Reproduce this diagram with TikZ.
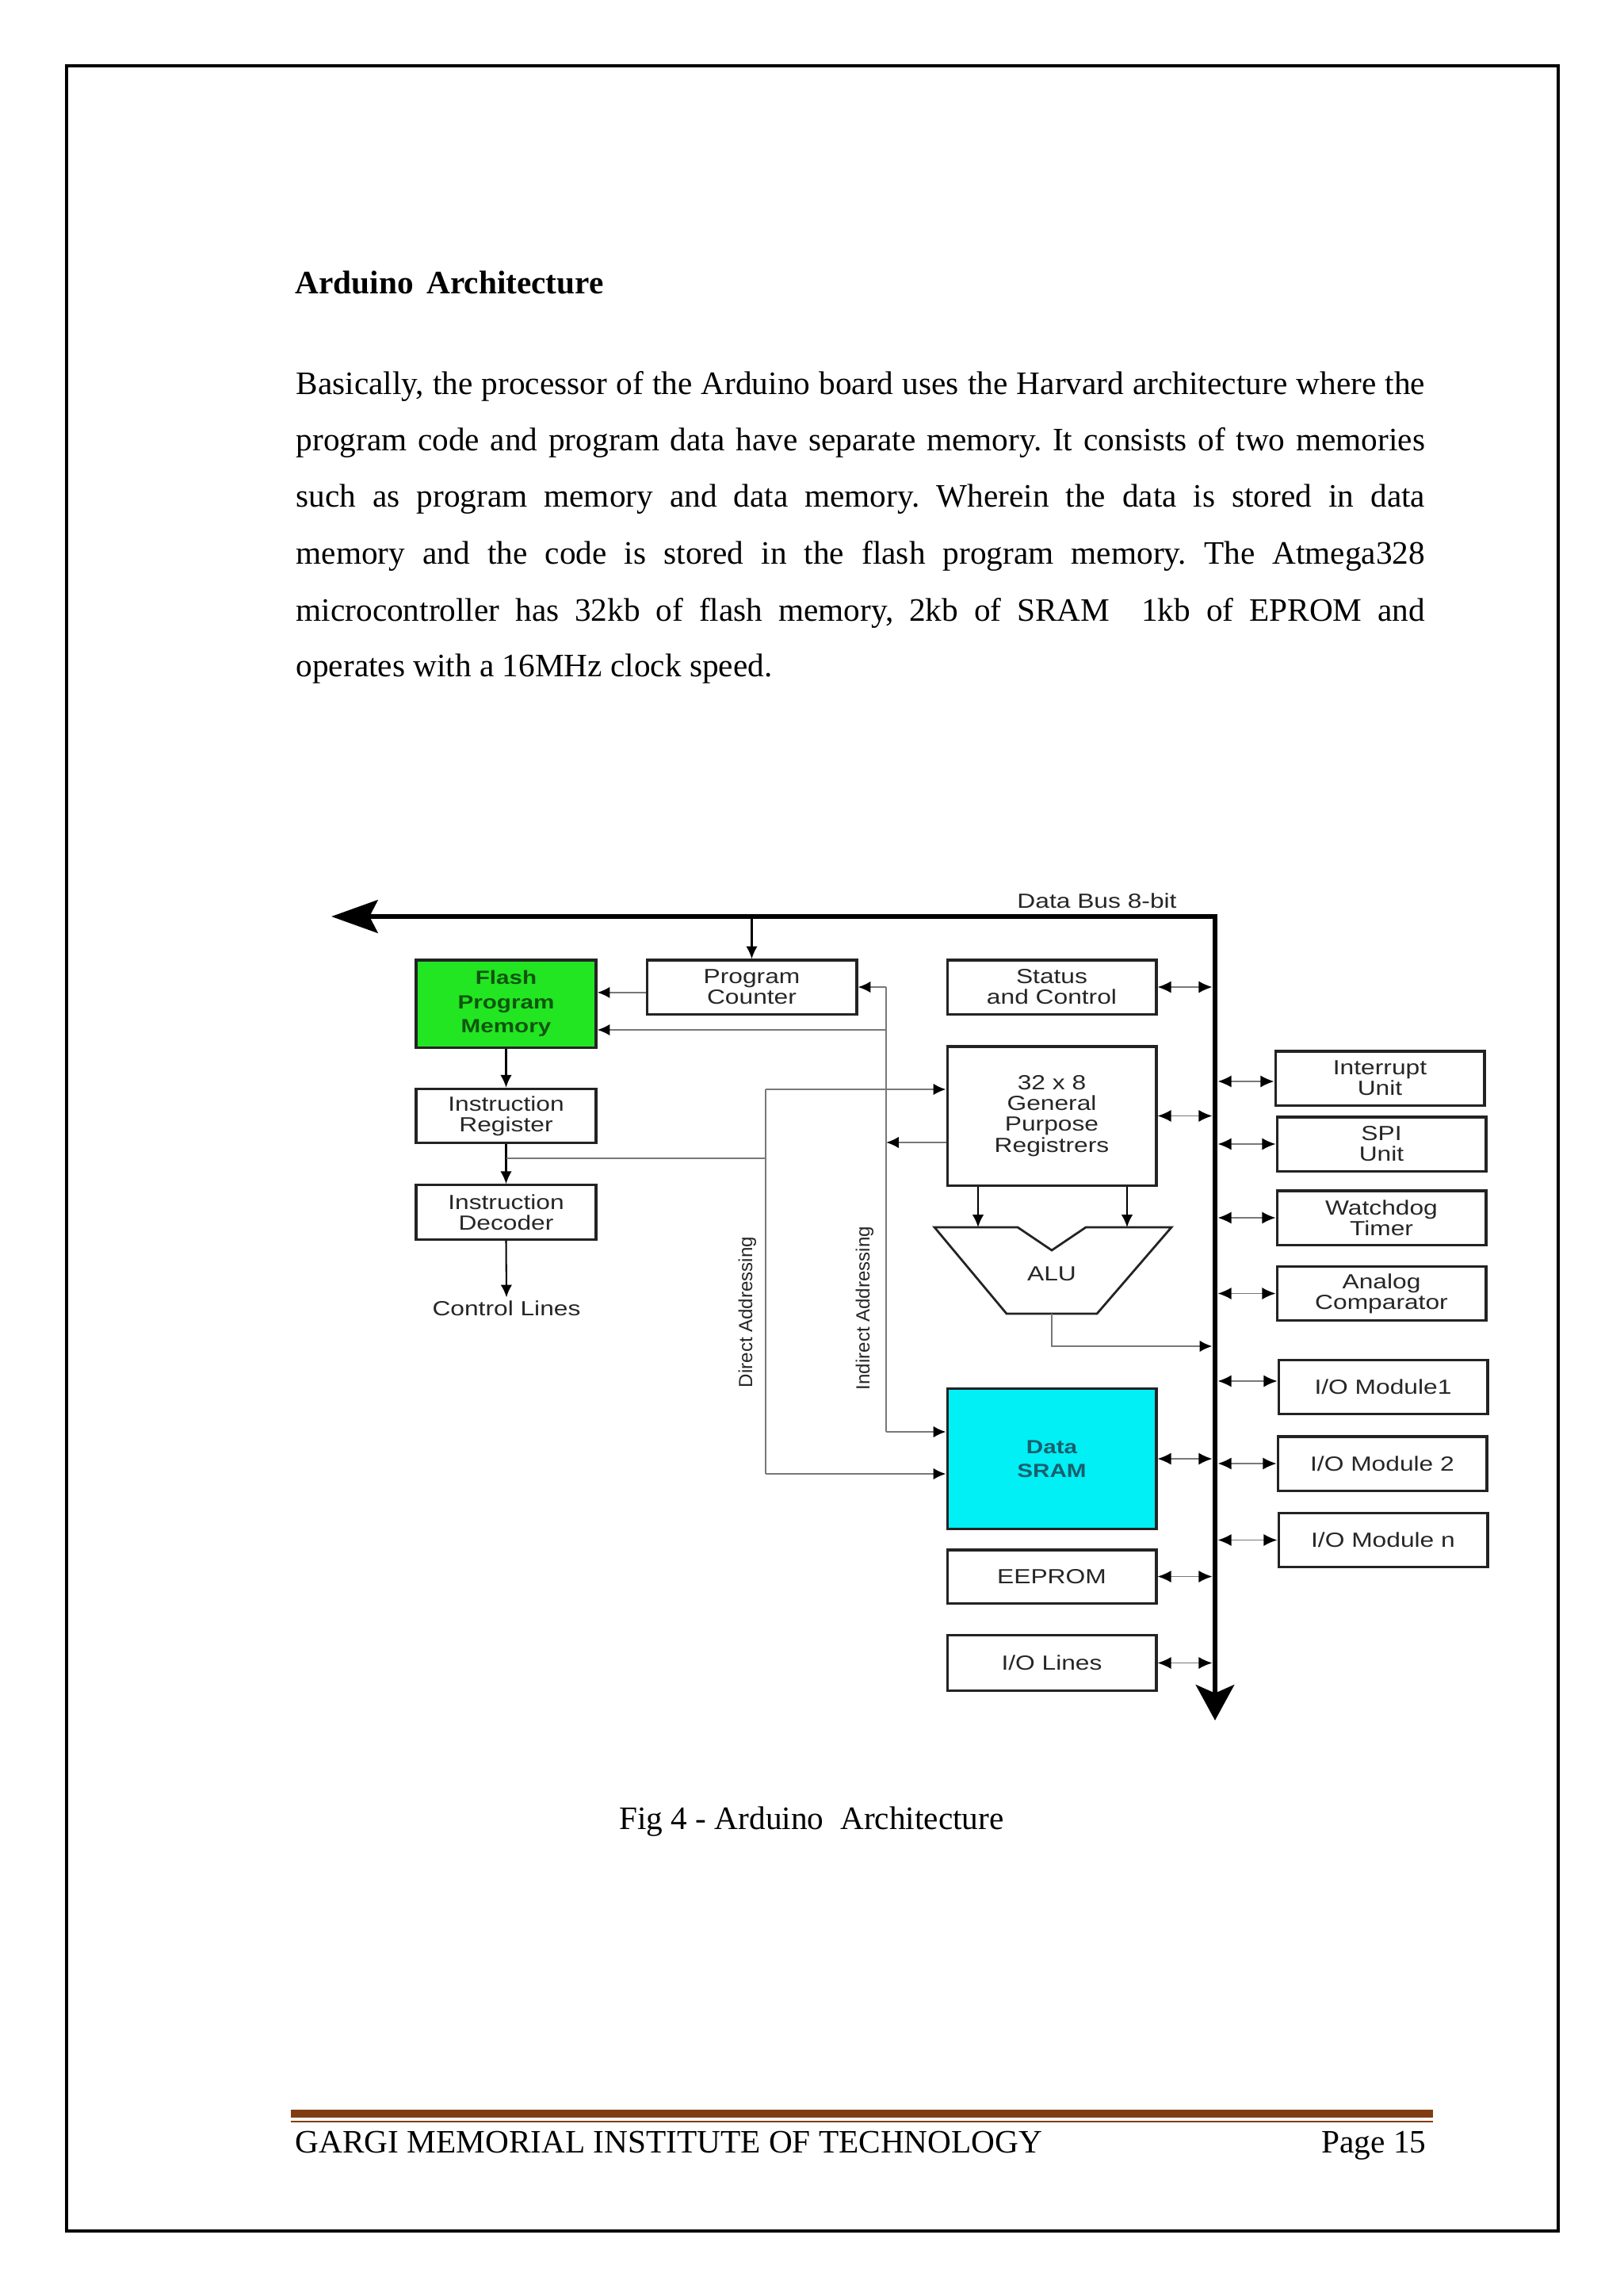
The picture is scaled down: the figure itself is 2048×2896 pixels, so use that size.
\documentclass[tikz,border=0pt]{standalone}
\usepackage{fontspec}
\setmainfont{Liberation Serif}
\newfontfamily\dfont[FakeStretch=1.23]{Liberation Sans}
\newfontfamily\rfont{Liberation Sans}
\usetikzlibrary{arrows.meta}
\definecolor{boxc}{RGB}{35,35,35}
\definecolor{conn}{RGB}{120,120,120}
\definecolor{flashfill}{RGB}{34,230,34}
\definecolor{flashtext}{RGB}{15,85,15}
\definecolor{sramfill}{RGB}{0,240,245}
\definecolor{sramtext}{RGB}{25,95,110}
\definecolor{rulebrown}{RGB}{128,61,17}
\frenchspacing
\begin{document}
\begin{tikzpicture}[x=0.290664pt,y=-0.290664pt,
  box/.style={draw=boxc, line width=0.9pt, fill=white, inner sep=0pt, align=center,
     font=\dfont\fontsize{7.5}{7.6}\selectfont, text=black!85},
  boldbox/.style={box, font=\dfont\bfseries\fontsize{7}{8.8}\selectfont},
  arr/.style={draw=black, line width=0.6pt, -{Latex[length=4.6pt,width=4.2pt]}},
  garr/.style={draw=conn, line width=0.7pt, -{Latex[length=4.6pt,width=4.2pt,color=black]}},
  gline/.style={draw=conn, line width=0.7pt},
  bidir/.style={draw=conn, line width=0.5pt,
     {Latex[length=5pt,width=4.4pt,color=black]}-{Latex[length=5pt,width=4.4pt,color=black]}},
  bus/.style={draw=black, line width=2pt, line join=miter,
     {Stealth[length=17pt,width=12pt,inset=3pt]}-{Stealth[length=13pt,width=14pt,inset=3pt]}},
  lbl/.style={font=\dfont\fontsize{7.5}{7.6}\selectfont, inner sep=1pt, text=black!85},
  rlbl/.style={font=\rfont\fontsize{7}{8}\selectfont, inner sep=1pt, rotate=90, text=black!85},
  body/.style={font=\fontsize{12}{14.4}\selectfont, inner sep=0pt, anchor=base west},
]
% page
\fill[white] (0,0) rectangle (2048,2896);
\useasboundingbox (0,0) rectangle (2048,2896);
\draw[line width=1pt] (84,83) rectangle (1966,2814);

% heading and body text
\node[body, font=\bfseries\fontsize{12}{14.4}\selectfont] (title) at (372,370.5) {Arduino\hspace{0.4em}Architecture};
\node[body] (l1) at (373,497) {\makebox[414pt][s]{Basically, the processor of the Arduino board uses the Harvard architecture where the}};
\node[body] (l2) at (373,568) {\makebox[414pt][s]{program code and program data have separate memory. It consists of two memories}};
\node[body] (l3) at (373,639) {\makebox[414pt][s]{such as program memory and data memory. Wherein the data is stored in data}};
\node[body] (l4) at (373,711) {\makebox[414pt][s]{memory and the code is stored in the flash program memory. The Atmega328}};
\node[body] (l5) at (373,783) {\makebox[414pt][s]{microcontroller has 32kb of flash memory, 2kb of SRAM\ \ 1kb of EPROM and}};
\node[body] (l6) at (373,853) {operates with a 16MHz clock speed.};

% boxes
\node[boldbox, fill=flashfill, text=flashtext, minimum width=66pt, minimum height=32pt] (flash) at (638.5,1266) {Flash\\Program\\Memory};
\node[box, minimum width=77pt, minimum height=19.8pt] (pc) at (948.5,1245) {Program\\Counter};
\node[box, minimum width=66pt, minimum height=19.9pt] (ir) at (638.5,1407.5) {Instruction\\Register};
\node[box, minimum width=66pt, minimum height=19.9pt] (dec) at (638.5,1529) {Instruction\\Decoder};
\node[lbl] (ctl) at (639,1650) {Control Lines};

\node[box, minimum width=76.7pt, minimum height=19.8pt] (status) at (1327,1245) {Status\\and Control};
\node[box, minimum width=76.7pt, minimum height=50.9pt] (gp) at (1327,1407.5) {32 x 8\\General\\Purpose\\Registrers};
\node[boldbox, fill=sramfill, text=sramtext, minimum width=76.7pt, minimum height=51.2pt] (sram) at (1327,1840) {Data\\SRAM};
\node[box, minimum width=76.7pt, minimum height=19.5pt] (eeprom) at (1327,1988.5) {EEPROM};
\node[box, minimum width=76.7pt, minimum height=20.1pt] (iolines) at (1327,2097.5) {I/O Lines};

\node[box, minimum width=76.7pt, minimum height=19.8pt] (intr) at (1741,1360) {Interrupt\\Unit};
\node[box, minimum width=76.7pt, minimum height=19.8pt] (spi) at (1743,1443) {SPI\\Unit};
\node[box, minimum width=76.7pt, minimum height=19.8pt] (wdt) at (1743,1536) {Watchdog\\Timer};
\node[box, minimum width=76.7pt, minimum height=19.8pt] (anlg) at (1743,1631.5) {Analog\\Comparator};
\node[box, minimum width=76.7pt, minimum height=19.8pt] (io1) at (1745,1749.5) {I/O Module1};
\node[box, minimum width=76.7pt, minimum height=19.8pt] (io2) at (1744,1846) {I/O Module 2};
\node[box, minimum width=76.7pt, minimum height=19.8pt] (ion) at (1745,1942.5) {I/O Module n};

% ALU
\draw[draw=boxc, line width=0.8pt, line join=miter] (1179,1548) -- (1284,1548) -- (1327,1577) -- (1370,1548)
   -- (1478,1548) -- (1384,1657) -- (1270,1657) -- cycle;
\node[lbl] (alu) at (1327,1607) {ALU};
\coordinate (aluL) at (1234,1548);
\coordinate (aluR) at (1422,1548);
\coordinate (aluOut) at (1327,1657);
\coordinate (aluTurn) at (1327,1698);

% data bus
\coordinate (busStart) at (418,1156);
\coordinate (busTL) at (1533,1156);
\coordinate (busEnd) at (1533,2170);
\coordinate (busW) at (1529.5,1156);
\coordinate (busE) at (1536.5,1156);
\draw[bus] (busStart) -- (busTL) -- (busEnd);
\node[lbl] (buslbl) at (1384,1136) {Data Bus 8-bit};

% bus connections
\draw[bidir] (status.east) -- (status.east -| busW);
\draw[bidir] (gp.east) -- (gp.east -| busW);
\draw[bidir] (sram.east) -- (sram.east -| busW);
\draw[bidir] (eeprom.east) -- (eeprom.east -| busW);
\draw[bidir] (iolines.east) -- (iolines.east -| busW);
\draw[bidir] (intr.west |- 0,1364) -- (busE |- 0,1364);
\draw[bidir] (spi.west) -- (spi.west -| busE);
\draw[bidir] (wdt.west) -- (wdt.west -| busE);
\draw[bidir] (anlg.west) -- (anlg.west -| busE);
\draw[bidir] (io1.west |- 0,1742) -- (busE |- 0,1742);
\draw[bidir] (io2.west) -- (io2.west -| busE);
\draw[bidir] (ion.west) -- (ion.west -| busE);

% program flow
\draw[arr] (pc.north |- busTL) -- (pc.north);
\draw[garr] ([yshift=-2pt]pc.west) -- ([yshift=-2pt]pc.west -| flash.east);
\draw[arr] (flash.south) -- (ir.north);
\draw[arr] (ir.south) -- (dec.north);
\draw[arr] (dec.south) -- (ctl.north);

% indirect addressing
\coordinate (indTop) at (1118,1245);
\coordinate (indFl) at (1118,1299);
\coordinate (indGP) at (1118,1441);
\coordinate (indBot) at (1118,1806);
\draw[gline] (indTop) -- (indBot);
\draw[garr] (indTop) -- (pc.east);
\draw[garr] (indFl) -- (indFl -| flash.east);
\draw[garr] (gp.west |- indGP) -- (indGP);
\draw[garr] (indBot) -- (indBot -| sram.west);
\node[rlbl] (indlbl) at (1091,1650) {Indirect Addressing};

% direct addressing
\coordinate (dirTop) at (966,1374);
\coordinate (dirMid) at (966,1461);
\coordinate (dirBot) at (966,1859);
\draw[gline] (ir.south |- dirMid) -- (dirMid);
\draw[gline] (dirTop) -- (dirBot);
\draw[garr] (dirTop) -- (dirTop -| gp.west);
\draw[garr] (dirBot) -- (dirBot -| sram.west);
\node[rlbl] (dirlbl) at (943,1655) {Direct Addressing};

% ALU connections
\draw[arr] (gp.south -| aluL) -- (aluL);
\draw[arr] (gp.south -| aluR) -- (aluR);
\draw[garr] (aluOut) -- (aluTurn) -- (aluTurn -| busW);

% caption
\node[font=\fontsize{12}{14.4}\selectfont, inner sep=0pt, anchor=base] (cap) at (1024,2307) {Fig 4 - Arduino~~Architecture};

% footer
\fill[rulebrown] (367,2661) rectangle (1808,2671);
\fill[rulebrown] (367,2674.5) rectangle (1808,2677);
\node[body] (foot) at (372,2715) {GARGI MEMORIAL INSTITUTE OF TECHNOLOGY};
\node[body, anchor=base east] (page) at (1800,2715) {Page 15};
\end{tikzpicture}
\end{document}
